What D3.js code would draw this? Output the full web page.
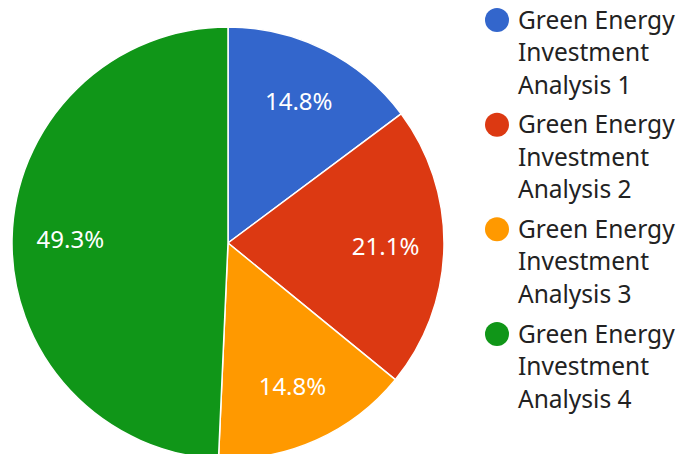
<!DOCTYPE html>
<html><head><meta charset="utf-8">
<script src="https://cdn.jsdelivr.net/npm/d3@7"></script>
<style>body{margin:0;background:#fff}svg{display:block;font-family:"Noto Sans","Open Sans",sans-serif}</style>
</head><body>
<svg id="c" width="678" height="454"></svg>
<script>
const categories = ["Green Energy Investment Analysis 1","Green Energy Investment Analysis 2","Green Energy Investment Analysis 3","Green Energy Investment Analysis 4"];
const legendLines = [["Green Energy","Investment","Analysis 1"],["Green Energy","Investment","Analysis 2"],["Green Energy","Investment","Analysis 3"],["Green Energy","Investment","Analysis 4"]];
const values = [14.8, 21.1, 14.8, 49.3];
const colors = ["#3366cc","#dc3912","#ff9900","#109618"];

const svg = d3.select("#c");
const cx = 228, cy = 243, R = 216;
const pie = d3.pie().sort(null).value(d => d);
const arcs = pie(values);
const arc = d3.arc().innerRadius(0).outerRadius(R);
const labelArc = d3.arc().innerRadius(R*0.73).outerRadius(R*0.73);
const total = d3.sum(values);
const g = svg.append("g").attr("transform", `translate(${cx},${cy})`);
g.selectAll("path").data(arcs).join("path")
  .attr("d", arc).attr("fill", (d,i) => colors[i])
  .attr("stroke", "#fff").attr("stroke-width", 1.5);
g.selectAll("text").data(arcs).join("text")
  .attr("transform", d => `translate(${labelArc.centroid(d)})`)
  .attr("text-anchor", "middle").attr("dy", "0.35em")
  .attr("fill", "#fff").attr("font-size", 24)
  .text(d => (d.data/total*100).toFixed(1) + "%");

const lg = svg.append("g");
const groupY = d3.scalePoint().domain(d3.range(categories.length)).range([20, 334]);
categories.forEach((c, i) => {
  const y0 = groupY(i);
  lg.append("circle").attr("cx", 497).attr("cy", y0).attr("r", 12).attr("fill", colors[i]);
  legendLines[i].forEach((t, j) => {
    lg.append("text").attr("x", 518).attr("y", y0 + j*32.5).attr("dy", "0.35em")
      .attr("font-size", 24.5).attr("fill", "#222").text(t);
  });
});
</script>
</body></html>
